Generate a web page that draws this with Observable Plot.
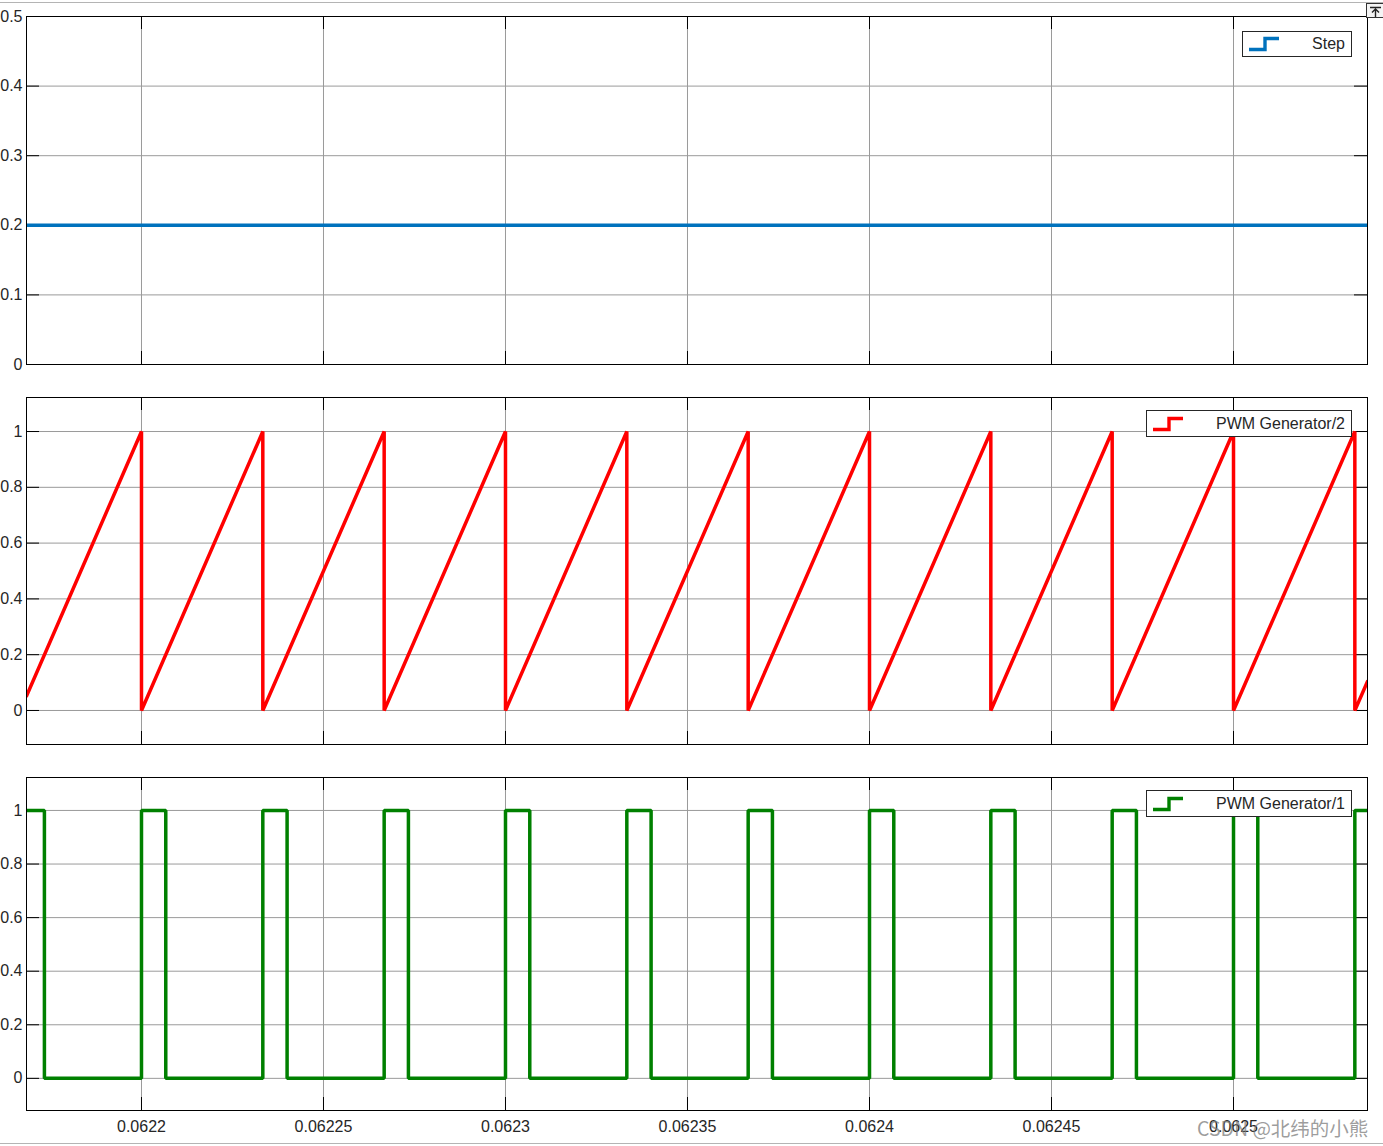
<!DOCTYPE html>
<html><head><meta charset="utf-8">
<script src="https://cdn.jsdelivr.net/npm/d3@7"></script>
<script src="https://cdn.jsdelivr.net/npm/@observablehq/plot@0.6"></script>
<style>
body{margin:0;background:#fff;}
#root{position:relative;width:1383px;height:1146px;overflow:hidden;font-family:"Liberation Sans",Arial,sans-serif;background:#fff;}
.panel{position:absolute;left:0;}
.legend{position:absolute;background:#fff;border:1px solid #262626;box-sizing:border-box;font-size:16px;color:#262626;}
.legend svg{position:absolute;}
.legend span{position:absolute;right:6px;top:50%;transform:translateY(-50%);white-space:nowrap;}
.hline{position:absolute;left:0;width:1383px;height:1px;background:#b4b4b4;}
#wm{position:absolute;left:1197px;top:1113px;font-family:"Noto Sans CJK SC","Noto Sans",sans-serif;font-size:19.5px;color:rgba(125,125,125,0.75);white-space:nowrap;}
#btn{position:absolute;left:1366px;top:3px;width:20px;height:15px;border:1px solid #333;box-sizing:border-box;background:#f4f4f4;}
</style></head><body><div id="root"></div>
<script>
// ---- data ----
const xDomain = [0.06216841, 0.06253681];
const xTicks = [0.0622, 0.06225, 0.0623, 0.06235, 0.0624, 0.06245, 0.0625];
const yTicksStep = [0, 0.1, 0.2, 0.3, 0.4, 0.5];
const yTicksPwm = [0, 0.2, 0.4, 0.6, 0.8, 1];

const stepTimes = [0.06216841, 0.06253681];
const stepValues = [0.2, 0.2];

const sawTimes = [0.06216841,
  0.0622, 0.0622, 0.06223333, 0.06223333, 0.06226667, 0.06226667,
  0.0623, 0.0623, 0.06233333, 0.06233333, 0.06236667, 0.06236667,
  0.0624, 0.0624, 0.06243333, 0.06243333, 0.06246667, 0.06246667,
  0.0625, 0.0625, 0.06253333, 0.06253333,
  0.06253681];
const sawValues = [0.052,
  1, 0, 1, 0, 1, 0,
  1, 0, 1, 0, 1, 0,
  1, 0, 1, 0, 1, 0,
  1, 0, 1, 0,
  0.104];

const pwmTimes = [0.06216841, 0.06217333,
  0.0622, 0.06220667, 0.06223333, 0.06224, 0.06226667, 0.06227333,
  0.0623, 0.06230667, 0.06233333, 0.06234, 0.06236667, 0.06237333,
  0.0624, 0.06240667, 0.06243333, 0.06244, 0.06246667, 0.06247333,
  0.0625, 0.06250667, 0.06253333, 0.06253681];
const pwmValues = [1, 0,
  1, 0, 1, 0, 1, 0,
  1, 0, 1, 0, 1, 0,
  1, 0, 1, 0, 1, 0,
  1, 0, 1, 1];

const legendNames = ["Step", "PWM Generator/2", "PWM Generator/1"];
const colors = ["#0072BD", "#FF0000", "#008000"];

// ---- drawing ----
const W = 1383, ML = 26, MR = 16;
const fmt = d3.format("~g");
const root = document.getElementById("root");

function panel({top, height, mt, mb, yDomain, yTicks, xs, ys, color, curve, showX}) {
  const innerH = height - mt - mb, innerW = W - ML - MR, T = 13;
  const data = xs.map((x, i) => ({x, y: ys[i]}));
  const marks = [
    Plot.ruleX(xTicks, {x: d => d, stroke: "#9a9a9a", strokeWidth: 1}),
    Plot.ruleY(yTicks, {y: d => d, stroke: "#9a9a9a", strokeWidth: 1}),
    Plot.tickX(xTicks, {x: d => d, stroke: "#000", insetBottom: innerH - T}),
    Plot.tickX(xTicks, {x: d => d, stroke: "#000", insetTop: innerH - T}),
    Plot.tickY(yTicks, {y: d => d, stroke: "#000", insetRight: innerW - T}),
    Plot.tickY(yTicks, {y: d => d, stroke: "#000", insetLeft: innerW - T}),
    Plot.line(data, {x: "x", y: "y", stroke: color, strokeWidth: 3.5, curve, strokeLinejoin: "miter", clip: true}),
    Plot.frame({stroke: "#000", strokeWidth: 1}),
    Plot.axisY(yTicks, {tickSize: 0, tickPadding: 4, tickFormat: fmt, label: null})
  ];
  if (showX) marks.push(Plot.axisX(xTicks, {tickSize: 0, tickPadding: 10, tickFormat: fmt, label: null}));
  const svg = Plot.plot({
    width: W, height,
    marginLeft: ML, marginRight: MR, marginTop: mt, marginBottom: mb,
    x: {domain: xDomain, axis: null},
    y: {domain: yDomain, axis: null},
    style: {fontSize: "16px", fontFamily: '"Liberation Sans", Arial, sans-serif', color: "#262626", background: "transparent", overflow: "visible"},
    marks
  });
  svg.classList.add("panel");
  svg.style.top = top + "px";
  root.appendChild(svg);
}

panel({top: 0, height: 380, mt: 16, mb: 16, yDomain: [0, 0.5], yTicks: yTicksStep,
  xs: stepTimes, ys: stepValues, color: colors[0], curve: "linear", showX: false});
panel({top: 380, height: 380, mt: 17, mb: 16, yDomain: [-0.122, 1.122], yTicks: yTicksPwm,
  xs: sawTimes, ys: sawValues, color: colors[1], curve: "linear", showX: false});
panel({top: 760, height: 386, mt: 17, mb: 36, yDomain: [-0.12, 1.123], yTicks: yTicksPwm,
  xs: pwmTimes, ys: pwmValues, color: colors[2], curve: "step-after", showX: true});

// legends
function legend(name, color, left, top, width, height, iconLeft) {
  const d = document.createElement("div");
  d.className = "legend";
  Object.assign(d.style, {left: left + "px", top: top + "px", width: width + "px", height: height + "px"});
  d.innerHTML = `<svg width="32" height="16" style="left:${iconLeft}px;top:${(height - 2 - 16) / 2}px">
    <path d="M1,13.5 H17 V2.5 H31" fill="none" stroke="${color}" stroke-width="3.4"/></svg><span>${name}</span>`;
  root.appendChild(d);
}
legend(legendNames[0], colors[0], 1242, 31, 110, 26, 5);
legend(legendNames[1], colors[1], 1146, 410, 206, 27, 5);
legend(legendNames[2], colors[2], 1146, 790, 206, 27, 5);

// chrome
const l1 = document.createElement("div"); l1.className = "hline"; l1.style.top = "2px"; root.appendChild(l1);
const l2 = document.createElement("div"); l2.className = "hline"; l2.style.top = "1143px"; root.appendChild(l2);
const btn = document.createElement("div"); btn.id = "btn";
btn.innerHTML = `<svg width="18" height="13"><path d="M3,2.5 H14 M8.5,4 V12 M5,7.5 L8.5,4 L12,7.5" fill="none" stroke="#222" stroke-width="1.4"/></svg>`;
root.appendChild(btn);
const wm = document.createElement("div"); wm.id = "wm"; wm.textContent = "CSDN @北纬的小熊"; root.appendChild(wm);
</script>
</body></html>
